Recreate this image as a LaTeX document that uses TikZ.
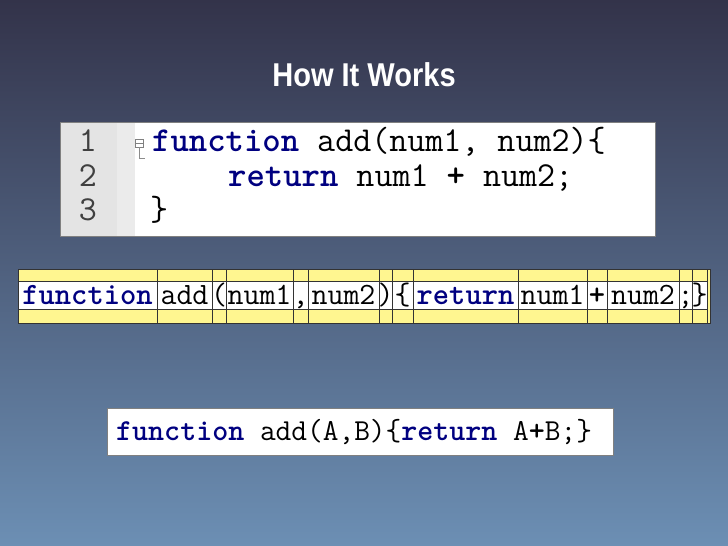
\documentclass[tikz,border=0pt]{standalone}
\usepackage{fontspec}
\setmainfont{Liberation Sans}
\newcommand\codef{\ttfamily}
\definecolor{kw}{HTML}{000080}
\definecolor{ylw}{HTML}{FFF690}
\definecolor{gut}{HTML}{E4E4E4}
\begin{document}
\begin{tikzpicture}[x=1pt,y=-1pt,
  code/.style={inner sep=0pt,anchor=base west,font=\codef\fontsize{35}{36}\selectfont},
  tcode/.style={inner sep=0pt,anchor=base,font=\codef\fontsize{31}{32}\selectfont},
  scode/.style={inner sep=0pt,anchor=base west,font=\codef\fontsize{30.5}{31}\selectfont},
  lnum/.style={inner sep=0pt,anchor=base,text=black!75,font=\codef\fontsize{35}{36}\selectfont}]
\shade[top color=black!85!blue!60!gray, bottom color={rgb,255:red,108;green,143;blue,180}] (0,0) rectangle (728,546);
\useasboundingbox (0,0) rectangle (728,546);
\node[text=white,font=\bfseries\fontsize{33}{36}\selectfont,xscale=0.88] (title) at (364,75) {How It Works};
% box 1
\fill[white] (60,122) rectangle (655,236);
\fill[gut] (60,122) rectangle (117,236);
\fill[black!8] (117,122) rectangle (135,236);
\draw[black!50] (60,122) rectangle (655,236);
\node[lnum] (l1) at (88,151) {1};
\node[lnum] (l2) at (88,186) {2};
\node[lnum] (l3) at (88,220) {3};
\node[draw=black!50,fill=white,minimum size=8pt,inner sep=0pt,line width=0.5pt] (fold) at (139,143) {};
\draw[black!50] (fold.west) -- (fold.east);
\draw[black!45] (fold.south) -- ++(0,11) -- ++(6,0);
\node[code] (c1) at (152,151) {\textbf{\textcolor{kw}{function}} add(num1, num2)\{};
\node[code] (c2) at (228,186) {\textbf{\textcolor{kw}{return}} num1 \textbf{+} num2;};
\node[code] (c3) at (150,220) {\}};
% token table
\fill[ylw] (18,269) rectangle (710,323);
\fill[white] (18,281) rectangle (707,309);
\draw[black!80] (18,269) rectangle (710,323);
\draw[black!80] (18,281) -- (707,281) (18,309) -- (707,309);
\foreach \x in {157,212,226,293,308,379,392,413,518,587,607,679,692,707}
  \draw[black!80] (\x,269) -- (\x,323);
\node[tcode] (t1) at (87.5,304) {\textbf{\textcolor{kw}{function}}};
\node[tcode] (t2) at (184.5,304) {add};
\node[tcode] (t3) at (219,304) {(};
\node[tcode] (t4) at (259.5,304) {num1};
\node[tcode] (t5) at (300.5,304) {,};
\node[tcode] (t6) at (343.5,304) {num2};
\node[tcode] (t7) at (385.5,304) {)};
\node[tcode] (t8) at (402.5,304) {\{};
\node[tcode] (t9) at (465.5,304) {\textbf{\textcolor{kw}{return}}};
\node[tcode] (t10) at (552.5,304) {num1};
\node[tcode] (t11) at (597,304) {\textbf{+}};
\node[tcode] (t12) at (643,304) {num2};
\node[tcode] (t13) at (685.5,304) {;};
\node[tcode] (t14) at (699.5,304) {\}};
% box 3
\fill[white] (107,408) rectangle (613,455);
\draw[black!50] (107,408) rectangle (613,455);
\node[scode] (s1) at (116,440) {\textbf{\textcolor{kw}{function}} add(A,B)\{\textbf{\textcolor{kw}{return}} A\textbf{+}B;\}};
\end{tikzpicture}
\end{document}
